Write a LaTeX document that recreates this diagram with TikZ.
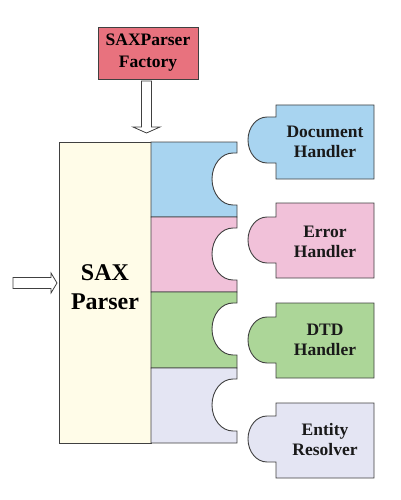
\documentclass[tikz,border=0pt]{standalone}
\usepackage{fontspec}
\setmainfont{Liberation Serif}
\usetikzlibrary{positioning}
\definecolor{factoryred}{RGB}{232,114,126}
\definecolor{parsercream}{RGB}{255,252,232}
\definecolor{docblue}{RGB}{168,212,240}
\definecolor{errpink}{RGB}{241,193,217}
\definecolor{dtdgreen}{RGB}{172,214,152}
\definecolor{entitylav}{RGB}{228,229,243}
\tikzstyle{piece} = [draw=black!75, line width=0.9pt]
\tikzstyle{handlertext} = [font=\bfseries\fontsize{17.5}{20}\selectfont, align=center, text=black!90]
\tikzstyle{hollow} = [draw=black!75, fill=white, line width=0.8pt, line join=miter]

\begin{document}
\begin{tikzpicture}[x=1pt, y=-1pt]
            \useasboundingbox (0,0) rectangle (400,500);
            % factory and its arrow
            \node[piece, fill=factoryred, minimum width=100, minimum height=52,
            font=\bfseries\fontsize{17.5}{22}\selectfont, align=center] (factory) at (148,53) {SAXParser\\Factory};
            \draw[hollow] (141.5,81) -- (151.5,81) -- (151.5,127) -- (160,127) -- (146.5,133)
            -- (133,127) -- (141.5,127) -- cycle;
            % parser body
            \draw[piece, fill=parsercream] (59,142) rectangle (151,443);
            \node[font=\bfseries\fontsize{24}{29}\selectfont, align=center] (parser) at (105,287) {SAX\\Parser};
            \draw[hollow] (13,277.5) -- (51,277.5) -- (51,273) -- (57,283) -- (51,293)
            -- (51,288.5) -- (13,288.5) -- cycle;
            % strips with notches
            \draw[piece, fill=docblue] (151,142) -- (237,142) -- (237,153) -- (233,153)
            arc[start angle=270, end angle=90, x radius=21, y radius=26] -- (237,205) -- (237,217) -- (151,217) -- cycle;
            \draw[piece, fill=errpink] (151,217) -- (237,217) -- (237,228) -- (233,228)
            arc[start angle=270, end angle=90, x radius=21, y radius=26] -- (237,280) -- (237,292) -- (151,292) -- cycle;
            \draw[piece, fill=dtdgreen] (151,292) -- (237,292) -- (237,303) -- (233,303)
            arc[start angle=270, end angle=90, x radius=21, y radius=26] -- (237,355) -- (237,368) -- (151,368) -- cycle;
            \draw[piece, fill=entitylav] (151,368) -- (237,368) -- (237,379) -- (233,379)
            arc[start angle=270, end angle=90, x radius=21, y radius=26] -- (237,431) -- (237,443) -- (151,443) -- cycle;
            % handlers with tabs
            \draw[piece, fill=docblue] (276,105) -- (374,105) -- (374,179) -- (276,179) -- (276,163) -- (267,163)
            arc[start angle=90, end angle=270, x radius=19, y radius=23] -- (276,117) -- cycle;
            \node[handlertext] (doc) at (325,142) {Document\\Handler};
            \draw[piece, fill=errpink] (276,203) -- (374,203) -- (374,278) -- (276,278) -- (276,263) -- (267,263)
            arc[start angle=90, end angle=270, x radius=19, y radius=23] -- (276,217) -- cycle;
            \node[handlertext] (err) at (325,242) {Error\\Handler};
            \draw[piece, fill=dtdgreen] (276,303) -- (374,303) -- (374,378) -- (276,378) -- (276,363) -- (267,363)
            arc[start angle=90, end angle=270, x radius=19, y radius=23] -- (276,317) -- cycle;
            \node[handlertext] (dtd) at (325,340) {DTD\\Handler};
            \draw[piece, fill=entitylav] (276,403) -- (374,403) -- (374,478) -- (276,478) -- (276,462) -- (267,462)
            arc[start angle=90, end angle=270, x radius=19, y radius=23] -- (276,416) -- cycle;
            \node[handlertext] (ent) at (325,440) {Entity\\Resolver};
        \end{tikzpicture}
\end{document}
